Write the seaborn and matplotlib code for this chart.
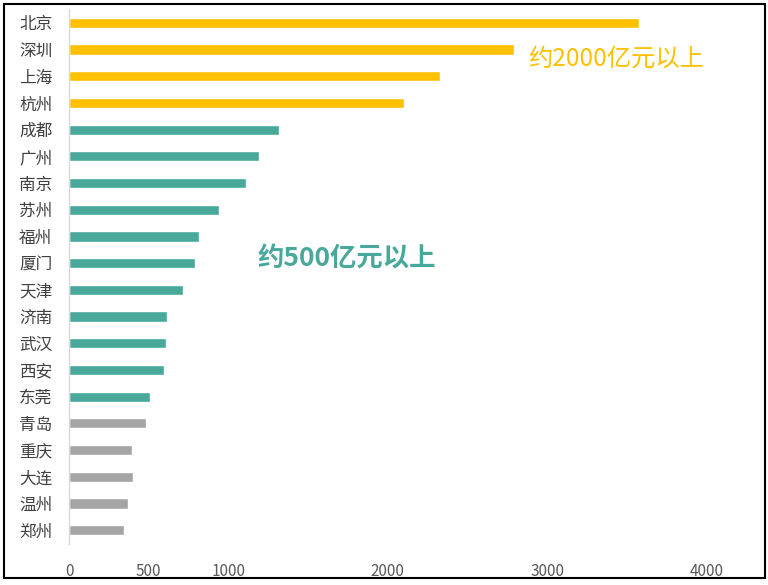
import matplotlib
matplotlib.use("Agg")
import matplotlib.pyplot as plt
import seaborn as sns
import pandas as pd
from matplotlib.patches import Rectangle

cities = ["北京", "深圳", "上海", "杭州", "成都", "广州", "南京", "苏州", "福州", "厦门",
          "天津", "济南", "武汉", "西安", "东莞", "青岛", "重庆", "大连", "温州", "郑州"]
values = [3579, 2795, 2325, 2100, 1319, 1193, 1113, 939, 818, 790,
          713, 618, 608, 593, 511, 482, 394, 400, 373, 348]
groups = ["约2000亿元以上"] * 4 + ["约500亿元以上"] * 11 + ["其他"] * 5
xticks = [0, 500, 1000, 2000, 3000, 4000]

palette = {"约2000亿元以上": "#FFC000", "约500亿元以上": "#48A89A", "其他": "#A5A5A5"}

df = pd.DataFrame({"city": cities, "value": values, "group": groups})

sns.set_theme(style="white")
plt.rcParams["font.family"] = ["Noto Sans CJK SC", "DejaVu Sans"]

fig = plt.figure(figsize=(7.68, 5.85), dpi=100)
ax = fig.add_axes([69 / 768, 1 - 543.5 / 585, (706.5 - 69) / 768, (543.5 - 9.5) / 585])

sns.barplot(data=df, y="city", x="value", hue="group", palette=palette,
            order=cities, dodge=False, width=0.38, legend=False, ax=ax,
            saturation=1)

ax.set_xlim(0, 4000)
ax.set_xticks(xticks)
ax.set_xticklabels([str(t) for t in xticks])
ax.set_xlabel("")
ax.set_ylabel("")
for s in ["top", "right", "bottom"]:
    ax.spines[s].set_visible(False)
ax.spines["left"].set_color("#D9D9D9")
ax.spines["left"].set_linewidth(1)
ax.tick_params(axis="y", length=0, pad=12, labelsize=12, labelcolor="#404040")
ax.tick_params(axis="x", length=0, pad=14, labelsize=11, labelcolor="#595959")

ax.text(3432, 1.35, "约2000亿元以上", color="#FFC000", fontsize=17.5,
        ha="center", va="center")
ax.text(1740, 8.85, "约500亿元以上", color="#48A89A", fontsize=19,
        fontweight="bold", ha="center", va="center")

fig.patches.append(Rectangle((4 / 768, 1 - 578 / 585), (765 - 4) / 768, (578 - 4) / 585,
                             transform=fig.transFigure, fill=False,
                             edgecolor="black", linewidth=1.5))

fig.savefig("out.png", dpi=100)
